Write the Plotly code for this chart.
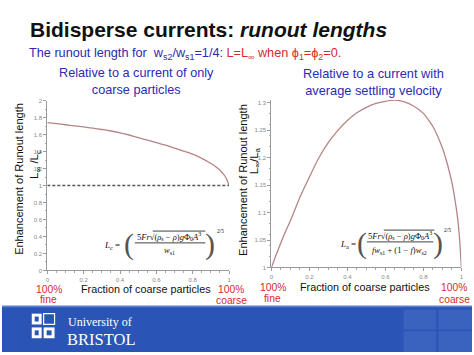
import plotly.graph_objects as go

W, H = 474, 355

# ---------------- data ----------------
frac_left = [0, 0.05, 0.1, 0.15, 0.2, 0.25, 0.3, 0.35, 0.4, 0.45, 0.5, 0.55, 0.6, 0.65, 0.7,
             0.75, 0.8, 0.85, 0.9, 0.925, 0.95, 0.97, 0.98, 0.99, 1.0]
ratio_left = [1.741, 1.729, 1.716, 1.703, 1.69, 1.675, 1.66, 1.642, 1.621, 1.595, 1.565, 1.535, 1.505,
              1.475, 1.44, 1.405, 1.37, 1.32, 1.26, 1.225, 1.18, 1.13, 1.10, 1.06, 1.0]
ref_level_x = [0, 1]
ref_level_y = [1, 1]

frac_right = [0, 0.025, 0.05, 0.075, 0.1, 0.15, 0.2, 0.25, 0.3, 0.35, 0.4, 0.45, 0.5, 0.55, 0.6,
              0.65, 0.7, 0.75, 0.8, 0.85, 0.9, 0.925, 0.95, 0.97, 0.98, 0.99, 1.0]
ratio_right = [1.0, 1.023, 1.045, 1.066, 1.085, 1.128, 1.165, 1.2, 1.228, 1.25, 1.268, 1.282, 1.292,
               1.299, 1.303, 1.305, 1.302, 1.294, 1.281, 1.257, 1.218, 1.19, 1.155, 1.115, 1.09, 1.055, 1.0]

x_ticks = [0, 0.2, 0.4, 0.6, 0.8, 1]
x_tick_text = ["0", "0.2", "0.4", "0.6", "0.8", "1"]
yl_ticks = [0, 0.2, 0.4, 0.6, 0.8, 1, 1.2, 1.4, 1.6, 1.8, 2]
yl_tick_text = ["0", "0.2", "0.4", "0.6", "0.8", "1", "1.2", "1.4", "1.6", "1.8", "2"]
yr_ticks = [1, 1.05, 1.1, 1.15, 1.2, 1.25, 1.3]
yr_tick_text = ["1", "1.05", "1.1", "1.15", "1.2", "1.25", "1.3"]

# ---------------- helpers ----------------
def px(x):
    return x / W

def py(y):
    return 1 - y / H

SANS = "Liberation Sans, Arial, sans-serif"
SERIF = "Liberation Serif, Times New Roman, serif"
BLUE = "#2a2ab4"
RED = "#d82a2a"
CURVE = "#b58585"

annotations = []
shapes = []

def ann(text, x, y, size, color="#111", family=SANS, xanchor="center", yanchor="middle", angle=0):
    annotations.append(dict(text=text, x=px(x), y=py(y), xref="paper", yref="paper",
                            showarrow=False, xanchor=xanchor, yanchor=yanchor, textangle=angle,
                            font=dict(size=size, color=color, family=family)))

def line(x0, y0, x1, y1, color="#111", width=0.8):
    shapes.append(dict(type="line", xref="paper", yref="paper", x0=px(x0), y0=py(y0),
                       x1=px(x1), y1=py(y1), line=dict(color=color, width=width)))

def rect(x0, y0, x1, y1, color, opacity=1.0, lw=0, lc=None):
    shapes.append(dict(type="rect", xref="paper", yref="paper", x0=px(x0), y0=py(y0),
                       x1=px(x1), y1=py(y1), fillcolor=color, opacity=opacity,
                       line=dict(width=lw, color=lc or color), layer="above"))

# ---------------- figure ----------------
fig = go.Figure()
fig.add_trace(go.Scatter(x=frac_left, y=ratio_left, mode="lines", xaxis="x", yaxis="y",
                         line=dict(color=CURVE, width=1.3, shape="spline", smoothing=0.5),
                         showlegend=False, hoverinfo="skip"))
fig.add_trace(go.Scatter(x=ref_level_x, y=ref_level_y, mode="lines", xaxis="x", yaxis="y",
                         line=dict(color="#555", width=1.4, dash="3px,2px"), showlegend=False, hoverinfo="skip"))
fig.add_trace(go.Scatter(x=frac_right, y=ratio_right, mode="lines", xaxis="x2", yaxis="y2",
                         line=dict(color=CURVE, width=1.3, shape="spline", smoothing=0.5),
                         showlegend=False, hoverinfo="skip"))

axis_common = dict(showgrid=False, zeroline=False, showline=True, linecolor="#9a9a9a", linewidth=1,
                   ticks="outside", ticklen=3, tickcolor="#9a9a9a", tickwidth=1,
                   tickfont=dict(size=6, color="#888", family=SANS),
                   minor=dict(ticks="outside", ticklen=1.5, tickcolor="#aaa", nticks=6))

fig.update_layout(
    width=W, height=H, margin=dict(l=0, r=0, t=0, b=0),
    paper_bgcolor="white", plot_bgcolor="white",
    xaxis=dict(domain=[px(45.7), px(229)], range=[0, 1], tickvals=x_ticks, ticktext=x_tick_text,
               anchor="y", **axis_common),
    yaxis=dict(domain=[py(272), py(99.3)], range=[0, 2], tickvals=yl_ticks, ticktext=yl_tick_text,
               anchor="x", **axis_common),
    xaxis2=dict(domain=[px(271.7), px(463.3)], range=[0, 1], tickvals=x_ticks, ticktext=x_tick_text,
                anchor="y2", **axis_common),
    yaxis2=dict(domain=[py(269), py(98.3)], range=[1, 1.306], tickvals=yr_ticks, ticktext=yr_tick_text,
                anchor="x2", **axis_common),
)

# ---------------- slide texts ----------------
ann("<b>Bidisperse currents: <i>runout lengths</i></b>", 26, 27, 21, "#111", xanchor="left")
ann("The runout length for  w<sub>s2</sub>/w<sub>s1</sub>=1/4: "
    "<span style='color:%s'>L=L<sub>∞</sub> when ϕ<sub>1</sub>=ϕ<sub>2</sub>=0.</span>" % RED,
    25, 52, 12.7, BLUE, xanchor="left")
ann("Relative to a current of only<br>coarse particles", 136, 80, 12.7, BLUE)
ann("Relative to a current with<br>average settling velocity", 375, 80, 12.8, BLUE)

# axis titles
ann("Enhancement of Runout length", 17, 179, 11, "#111", angle=-90)
ann("L<sub>∞</sub> /L<sub>c</sub>", 34, 164, 11.5, "#111", angle=-90)
ann("Enhancement of Runout length", 243, 180, 11, "#111", angle=-90)
ann("L<sub>∞</sub>/L<sub>a</sub>", 255, 160, 11.5, "#111", angle=-90)
ann("Fraction of coarse particles", 145, 291, 10.8, "#111")
ann("Fraction of coarse particles", 366, 289, 10.8, "#111")

for (cx, y1, y2, word) in [(47, 291, 302, "fine"), (231, 291, 303, "coarse"),
                            (273, 289, 301, "fine"), (456, 289, 302, "coarse")]:
    ann("100%", cx, y1, 10.3, RED)
    ann(word, cx, y2, 10.3, RED)

# ---------------- formulas ----------------
# left: L_c
ann("<i>L</i><sub>c</sub> =", 111, 247, 9, "#111", family=SERIF)
ann("(", 128, 245, 30, "#555", family=SERIF)
ann(")", 210, 245, 30, "#555", family=SERIF)
ann("5<i>Fr</i>√(<i>ρ</i><sub>s</sub> − <i>ρ</i>)<i>g</i>Φ<sub>0</sub><i>A</i><sup>3</sup>",
    168, 238, 8.5, "#111", family=SERIF)
line(134, 244, 205, 244)
line(152, 232, 205, 232)
ann("<i>w</i><sub>s1</sub>", 169, 252, 8.5, "#111", family=SERIF)
ann("2/5", 220, 232, 5.5, "#111", family=SERIF)

# right: L_a
ann("<i>L</i><sub>a</sub> =", 349, 246, 9, "#111", family=SERIF)
ann("(", 363, 244, 30, "#555", family=SERIF)
ann(")", 440, 244, 30, "#555", family=SERIF)
ann("5<i>Fr</i>√(<i>ρ</i><sub>s</sub> − <i>ρ</i>)<i>g</i>Φ<sub>0</sub><i>A</i><sup>3</sup>",
    401, 237, 8.5, "#111", family=SERIF)
line(368, 243, 435, 243)
line(385, 231, 436, 231)
ann("<i>fw</i><sub>s1</sub> + (1 − <i>f</i>)<i>w</i><sub>s2</sub>", 401, 252, 8.5, "#111", family=SERIF)
ann("2/5", 449, 231, 5.5, "#111", family=SERIF)

# ---------------- footer band ----------------
rect(0, 308, W, H, "#2a55b6")
rect(0, 308, W, 309.5, "#5a7fd0")
# faint crest on the right
rect(405, 312, 438, 332, "#5d83cf", opacity=0.3)
rect(440, 312, 474, 332, "#5d83cf", opacity=0.3)
rect(405, 334, 438, 355, "#5d83cf", opacity=0.3)
rect(440, 334, 474, 355, "#5d83cf", opacity=0.3)
# logo
rect(30, 316, 40, 327, "white")
rect(42, 316, 53, 327, "#2a55b6", lw=1.2, lc="white")
rect(30, 330, 40, 341, "white")
rect(42, 330, 53, 341, "white")
rect(33, 319, 37, 324, "#2a55b6")
rect(33, 333, 37, 338, "#2a55b6")
rect(45, 333, 50, 338, "#2a55b6")
ann("University of", 65, 324.5, 12, "white", family=SERIF, xanchor="left")
ann("BRISTOL", 64, 342, 16.5, "white", family=SERIF, xanchor="left")

fig.update_layout(annotations=annotations, shapes=shapes)
fig.write_html("out.html")
